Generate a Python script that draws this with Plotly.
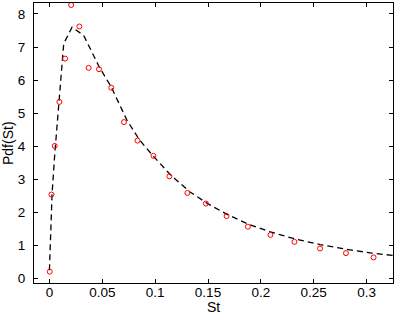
import plotly.graph_objects as go

# Measured data points (red circles)
st_pts = [0.0003, 0.0019, 0.005, 0.0094, 0.0148, 0.0205, 0.0283, 0.0371, 0.0469, 0.0585,
          0.0705, 0.0833, 0.0984, 0.1135, 0.1305, 0.148, 0.1676, 0.1877, 0.2091, 0.2318,
          0.256, 0.2805, 0.3066]
pdf_pts = [0.21, 2.54, 4.01, 5.34, 6.65, 8.27, 7.62, 6.37, 6.33, 5.77,
           4.73, 4.17, 3.71, 3.09, 2.59, 2.27, 1.89, 1.57, 1.32, 1.11,
           0.91, 0.77, 0.64]

# Fitted curve (dashed)
st_fit = [0.0, 0.0025, 0.005, 0.0075, 0.0105, 0.0135, 0.0214, 0.0324, 0.0469, 0.0585,
          0.0733, 0.085, 0.098, 0.115, 0.133, 0.15, 0.1676, 0.1877, 0.209, 0.232,
          0.256, 0.28, 0.305, 0.325]
pdf_fit = [0.25, 2.57, 3.75, 4.8, 6.0, 7.1, 7.6, 7.35, 6.41, 5.79,
           4.79, 4.2, 3.71, 3.12, 2.62, 2.26, 1.95, 1.65, 1.41, 1.2,
           1.03, 0.89, 0.77, 0.70]

x_ticks = [0, 0.05, 0.1, 0.15, 0.2, 0.25, 0.3]
x_labels = ["0", "0.05", "0.1", "0.15", "0.2", "0.25", "0.3"]
y_ticks = [0, 1, 2, 3, 4, 5, 6, 7, 8]

fig = go.Figure()
fig.add_trace(go.Scatter(x=st_fit, y=pdf_fit, mode="lines",
                         line=dict(color="black", width=1.3, dash="6px,4px"),
                         showlegend=False, hoverinfo="skip"))
fig.add_trace(go.Scatter(x=st_pts, y=pdf_pts, mode="markers",
                         marker=dict(symbol="circle-open", size=5, color="red",
                                     line=dict(width=1, color="red")),
                         cliponaxis=False, showlegend=False))

font = dict(family="Liberation Sans, Arial, sans-serif", size=14, color="black")
tfont = dict(family="Liberation Sans, Arial, sans-serif", size=13.5, color="black")
fig.update_layout(
    width=396, height=315,
    margin=dict(l=34, r=3, t=3, b=32),
    paper_bgcolor="white", plot_bgcolor="white",
    font=font,
    xaxis=dict(range=[-0.0146, 0.325], tickvals=x_ticks, ticktext=x_labels,
               ticks="inside", ticklen=4, tickcolor="black", showline=True,
               linecolor="black", linewidth=1, mirror="ticks", showgrid=False,
               zeroline=False, automargin=False, ticklabelstandoff=-3,
               tickfont=tfont),
    yaxis=dict(range=[-0.133, 8.33], tickvals=y_ticks,
               ticks="inside", ticklen=4, tickcolor="black", showline=True,
               linecolor="black", linewidth=1, mirror="ticks", showgrid=False,
               zeroline=False, automargin=False, ticklabelstandoff=5,
               tickfont=tfont),
    annotations=[
        dict(text="St", xref="paper", yref="paper", x=0.5, y=0,
             xanchor="center", yanchor="middle", yshift=-24, showarrow=False,
             font=font),
        dict(text="Pdf(St)", xref="paper", yref="paper", x=0, y=0.5,
             xanchor="center", yanchor="middle", xshift=-26, textangle=-90,
             showarrow=False, font=font),
    ],
)
fig.write_html("out.html", config={"displayModeBar": False},
               post_script="document.body.style.margin='0';document.body.style.padding='0';")
